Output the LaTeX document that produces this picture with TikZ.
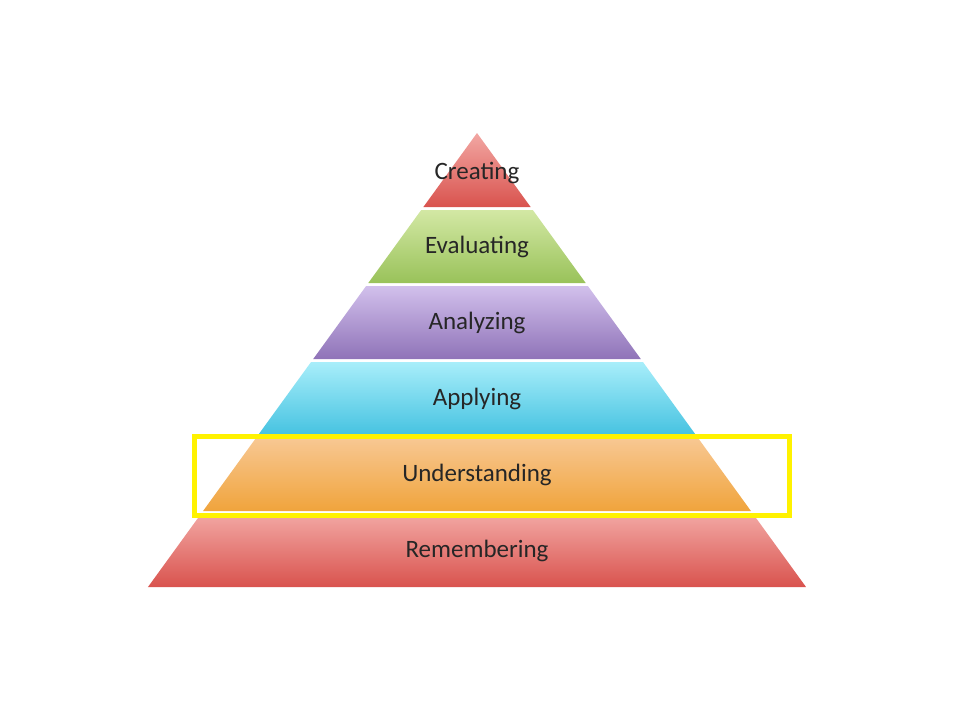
\documentclass[tikz,border=0pt]{standalone}
\usepackage{fontspec}
\setmainfont{Carlito}
\begin{document}
\begin{tikzpicture}[x=1pt,y=-1pt,lbl/.style={font=\fontsize{25}{28}\selectfont,text=black!85}]
\useasboundingbox (0,0) rectangle (960,720);
\def\hw#1{(#1-133)*0.7247}
\definecolor{r1}{HTML}{F2A7A3}\definecolor{r2}{HTML}{D9534E}
\definecolor{g1}{HTML}{D3E8A4}\definecolor{g2}{HTML}{99C25A}
\definecolor{p1}{HTML}{D2C0EC}\definecolor{p2}{HTML}{8F73B8}
\definecolor{c1}{HTML}{A8EEFA}\definecolor{c2}{HTML}{47C3E1}
\definecolor{o1}{HTML}{F8C894}\definecolor{o2}{HTML}{F0A43C}
\newcommand\layer[4]{\shade[top color=#3,bottom color=#4] ({477-\hw{#1}},#1) -- ({477+\hw{#1}},#1) -- ({477+\hw{#2}},#2) -- ({477-\hw{#2}},#2) -- cycle;}
\layer{133}{207}{r1}{r2}
\layer{210}{283}{g1}{g2}
\layer{286}{359}{p1}{p2}
\layer{362}{434}{c1}{c2}
\layer{437}{511}{o1}{o2}
\layer{514}{587}{r1}{r2}
\node[lbl] (cr) at (477,173) {Creating};
\node[lbl] (ev) at (477,247) {Evaluating};
\node[lbl] (an) at (477,323) {Analyzing};
\node[lbl] (ap) at (477,399) {Applying};
\node[lbl] (un) at (477,475) {Understanding};
\node[lbl] (re) at (477,551) {Remembering};
\draw[yellow,line width=5] (194,436) rectangle (789,515);
\end{tikzpicture}
\end{document}
